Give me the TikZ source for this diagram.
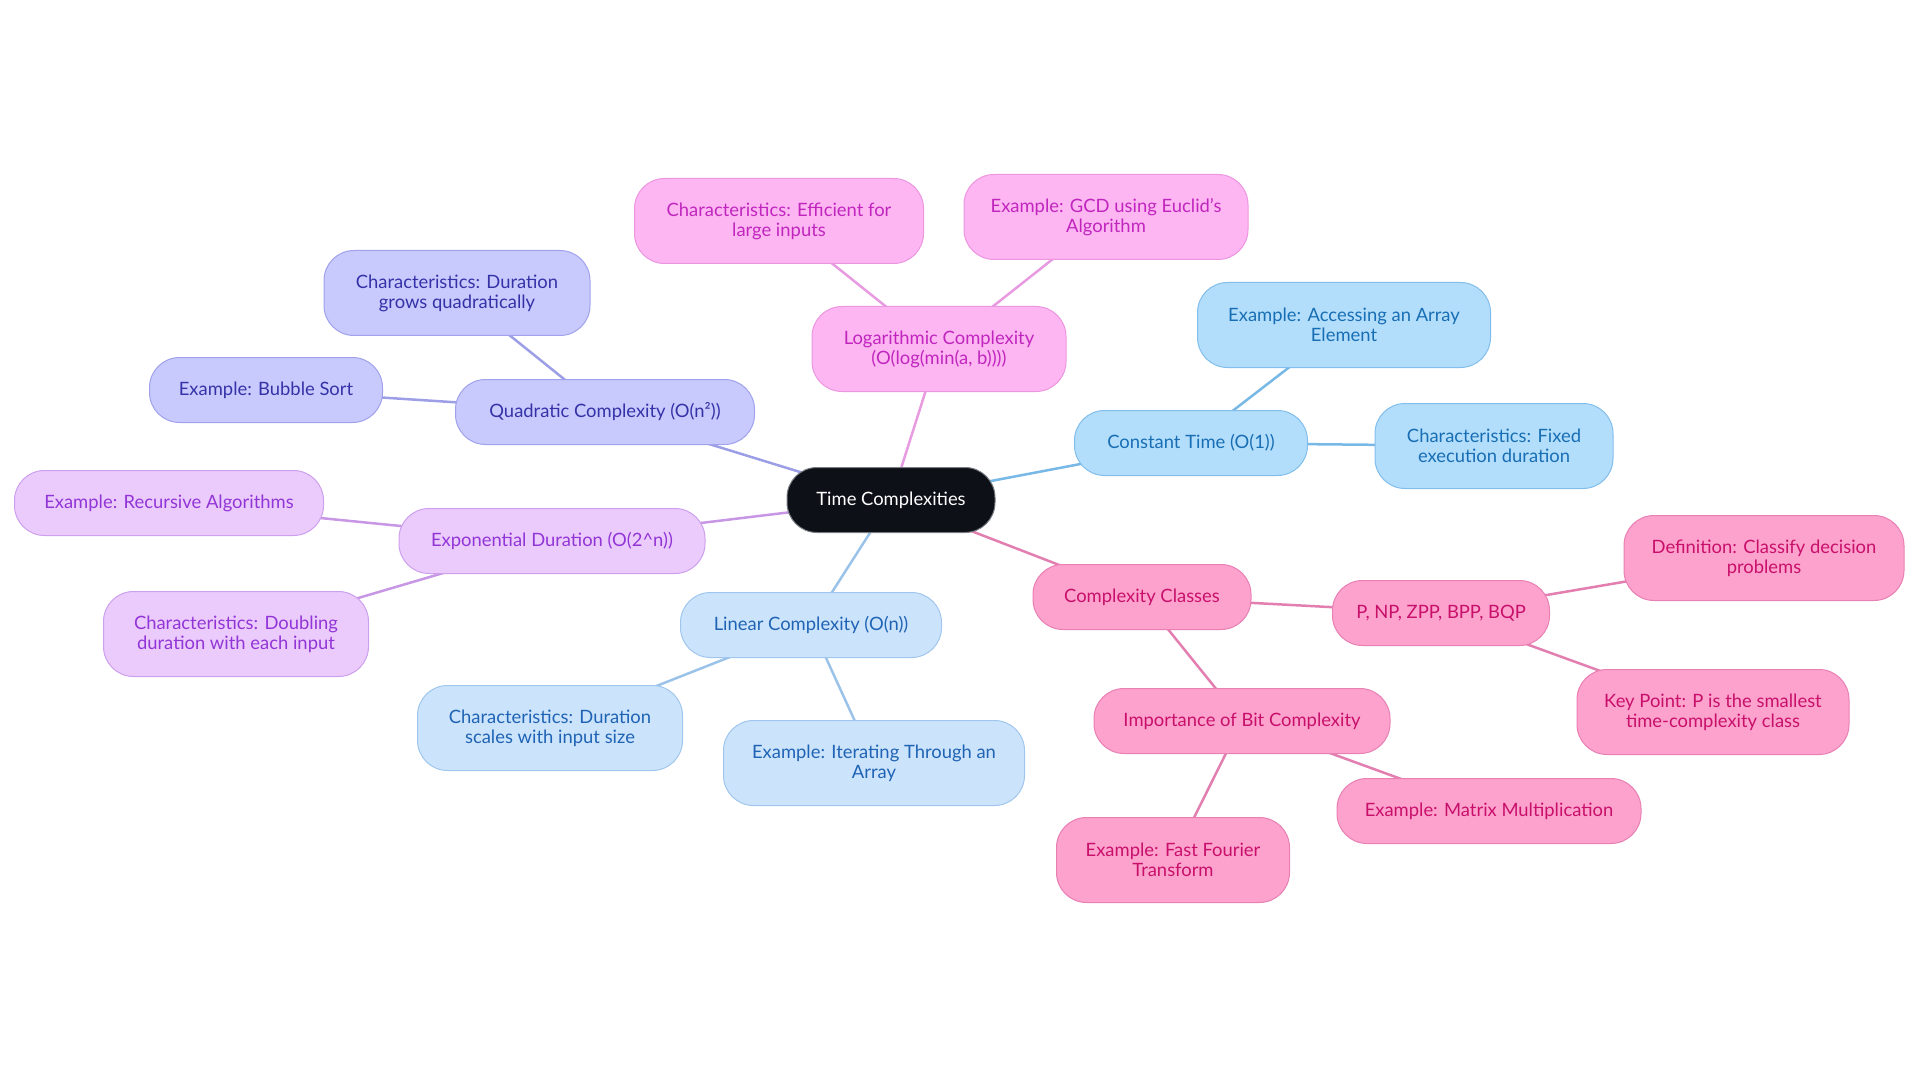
\documentclass[tikz,border=0pt]{standalone}
\usepackage{fontspec}
\setmainfont{Lato}
\usepackage{tikz}
\usetikzlibrary{positioning, backgrounds}
\definecolor{rootFill}{RGB}{13,17,23}
\definecolor{rootDraw}{RGB}{120,124,130}
\definecolor{logFill}{RGB}{253,182,242}
\definecolor{logDraw}{RGB}{236,150,224}
\definecolor{logText}{RGB}{192,38,190}
\definecolor{logEdge}{RGB}{232,155,224}
\definecolor{constFill}{RGB}{179,222,251}
\definecolor{constDraw}{RGB}{130,190,235}
\definecolor{constText}{RGB}{24,110,180}
\definecolor{constEdge}{RGB}{120,184,230}
\definecolor{quadFill}{RGB}{200,202,253}
\definecolor{quadDraw}{RGB}{160,162,236}
\definecolor{quadText}{RGB}{53,50,168}
\definecolor{quadEdge}{RGB}{156,158,230}
\definecolor{expoFill}{RGB}{235,203,252}
\definecolor{expoDraw}{RGB}{205,160,238}
\definecolor{expoText}{RGB}{146,53,214}
\definecolor{expoEdge}{RGB}{199,151,230}
\definecolor{linFill}{RGB}{204,228,251}
\definecolor{linDraw}{RGB}{160,198,238}
\definecolor{linText}{RGB}{31,99,181}
\definecolor{linEdge}{RGB}{155,195,234}
\definecolor{cplxFill}{RGB}{253,162,205}
\definecolor{cplxDraw}{RGB}{232,128,180}
\definecolor{cplxText}{RGB}{200,16,107}
\definecolor{cplxEdge}{RGB}{226,127,176}
\tikzset{
  mapnode/.style={
    rounded corners=30pt, line width=1pt, inner sep=0pt,
    minimum height=65pt, align=center,
    font=\fontsize{18.4}{20}\selectfont
  },
  tallbox/.style={minimum height=85pt},
  rootbox/.style={mapnode, draw=rootDraw, fill=rootFill, text=white},
  logbox/.style={mapnode, draw=logDraw, fill=logFill, text=logText},
  constbox/.style={mapnode, draw=constDraw, fill=constFill, text=constText},
  quadbox/.style={mapnode, draw=quadDraw, fill=quadFill, text=quadText},
  expobox/.style={mapnode, draw=expoDraw, fill=expoFill, text=expoText},
  linbox/.style={mapnode, draw=linDraw, fill=linFill, text=linText},
  cplxbox/.style={mapnode, draw=cplxDraw, fill=cplxFill, text=cplxText},
  loglink/.style={draw=logEdge, line width=2.5pt},
  constlink/.style={draw=constEdge, line width=2.5pt},
  quadlink/.style={draw=quadEdge, line width=2.5pt},
  expolink/.style={draw=expoEdge, line width=2.5pt},
  linlink/.style={draw=linEdge, line width=2.5pt},
  cplxlink/.style={draw=cplxEdge, line width=2.5pt},
}
\begin{document}
\begin{tikzpicture}[x=1pt, y=-1pt]
  \useasboundingbox (0,0) rectangle (1920,1083);

  %% Root
  \node[rootbox, minimum width=208pt] (tc) at (891,500) {Time Complexities};

  %% Logarithmic
  \node[logbox, tallbox, minimum width=254pt] (lg) at (939,349)
    {Logarithmic Complexity\\(O(log(min(a, b))))};
  \node[logbox, tallbox, minimum width=289pt] (lgc) at (779,221)
    {Characteristics: Efficient for\\large inputs};
  \node[logbox, tallbox, minimum width=284pt] (lge) at (1106,217)
    {Example: GCD using Euclid's\\Algorithm};

  %% Constant
  \node[constbox, minimum width=233pt] (ct) at (1191,443) {Constant Time (O(1))};
  \node[constbox, tallbox, minimum width=293pt] (cte) at (1344,325)
    {Example: Accessing an Array\\Element};
  \node[constbox, tallbox, minimum width=238pt] (ctc) at (1494,446)
    {Characteristics: Fixed\\execution duration};

  %% Quadratic
  \node[quadbox, minimum width=299pt] (qd) at (605,412) {Quadratic Complexity (O(n²))};
  \node[quadbox, tallbox, minimum width=266pt] (qdc) at (457,293)
    {Characteristics: Duration\\grows quadratically};
  \node[quadbox, minimum width=233pt] (qde) at (266,390) {Example: Bubble Sort};

  %% Exponential
  \node[expobox, minimum width=306pt] (ex) at (552,541)
    {Exponential Duration (O(2\textasciicircum n))};
  \node[expobox, minimum width=309pt] (exe) at (169,503) {Example: Recursive Algorithms};
  \node[expobox, tallbox, minimum width=265pt] (exc) at (236,634)
    {Characteristics: Doubling\\duration with each input};

  %% Linear
  \node[linbox, minimum width=261pt] (ln) at (811,625) {Linear Complexity (O(n))};
  \node[linbox, tallbox, minimum width=265pt] (lnc) at (550,728)
    {Characteristics: Duration\\scales with input size};
  \node[linbox, tallbox, minimum width=301pt] (lne) at (874,763)
    {Example: Iterating Through an\\Array};

  %% Complexity classes
  \node[cplxbox, minimum width=218pt] (cc) at (1142,597) {Complexity Classes};
  \node[cplxbox, minimum width=217pt] (pn) at (1441,613) {P, NP, ZPP, BPP, BQP};
  \node[cplxbox, tallbox, minimum width=280pt] (pnd) at (1764,558)
    {Definition: Classify decision\\problems};
  \node[cplxbox, tallbox, minimum width=272pt] (pnk) at (1713,712)
    {Key Point: P is the smallest\\time-complexity class};
  \node[cplxbox, minimum width=296pt] (bc) at (1242,721) {Importance of Bit Complexity};
  \node[cplxbox, minimum width=304pt] (bcm) at (1489,811) {Example: Matrix Multiplication};
  \node[cplxbox, tallbox, minimum width=233pt] (bcf) at (1173,860)
    {Example: Fast Fourier\\Transform};

  %% Links
  \begin{scope}[on background layer]
    \draw[loglink] (tc.center) -- (lg.center);
    \draw[loglink] (lg.center) -- (lgc.center);
    \draw[loglink] (lg.center) -- (lge.center);
    \draw[constlink] (tc.center) -- (ct.center);
    \draw[constlink] (ct.center) -- (cte.center);
    \draw[constlink] (ct.center) -- (ctc.center);
    \draw[quadlink] (tc.center) -- (qd.center);
    \draw[quadlink] (qd.center) -- (qdc.center);
    \draw[quadlink] (qd.center) -- (qde.center);
    \draw[expolink] (tc.center) -- (ex.center);
    \draw[expolink] (ex.center) -- (exe.center);
    \draw[expolink] (ex.center) -- (exc.center);
    \draw[linlink] (tc.center) -- (ln.center);
    \draw[linlink] (ln.center) -- (lnc.center);
    \draw[linlink] (ln.center) -- (lne.center);
    \draw[cplxlink] (tc.center) -- (cc.center);
    \draw[cplxlink] (cc.center) -- (pn.center);
    \draw[cplxlink] (pn.center) -- (pnd.center);
    \draw[cplxlink] (pn.center) -- (pnk.center);
    \draw[cplxlink] (cc.center) -- (bc.center);
    \draw[cplxlink] (bc.center) -- (bcm.center);
    \draw[cplxlink] (bc.center) -- (bcf.center);
  \end{scope}

\end{tikzpicture}
\end{document}
